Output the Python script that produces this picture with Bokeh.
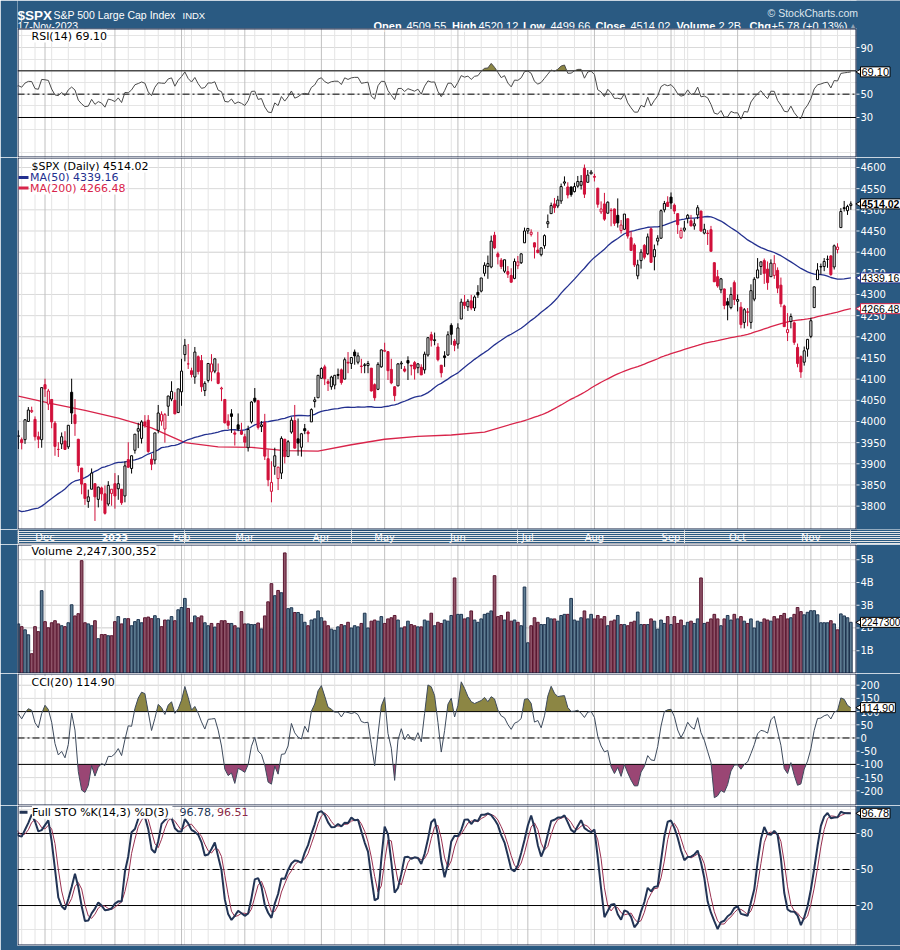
import numpy as np
import pandas as pd
from bokeh.plotting import figure
from bokeh.models import Range1d, Label, ColumnDataSource, GlobalInlineStyleSheet
from bokeh.layouts import column
from bokeh.embed import file_html
from bokeh.resources import INLINE
from bokeh.core.properties import value

# ---------------- DATA ----------------
HOLIDAYS = ["2022-11-24", "2022-12-26", "2023-01-02", "2023-01-16", "2023-02-20",
            "2023-04-07", "2023-05-29", "2023-06-19", "2023-07-04", "2023-09-04"]

# closes 12-Sep-2022 .. 30-Sep-2022 (history, only used for the moving averages / RSI warm-up)
sep_close = [4110, 3933, 3946, 3901, 3873, 3900, 3856, 3790, 3758, 3693, 3655, 3647, 3719, 3640, 3586]

# history 3-Oct-2022 .. 17-Nov-2022 (off-screen warm-up for indicators)
hist_open = [3609, 3710, 3754, 3771, 3706, 3647, 3596, 3590, 3520, 3690, 3638, 3746, 3703, 3689, 3657, 3762, 3799, 3825, 3834, 3808, 3881,
             3901, 3853, 3733, 3767, 3781, 3817, 3810, 3859, 3964, 3977, 4007, 3976, 3919]
hist_high = [3726, 3791, 3806, 3797, 3706, 3654, 3641, 3608, 3685, 3712, 3689, 3762, 3728, 3762, 3757, 3810, 3862, 3887, 3859, 3905, 3893,
             3911, 3894, 3750, 3796, 3813, 3859, 3819, 3959, 4002, 4009, 4029, 3983, 3954]
hist_low = [3604, 3710, 3722, 3739, 3620, 3579, 3570, 3574, 3491, 3579, 3638, 3676, 3667, 3656, 3647, 3741, 3799, 3825, 3803, 3808, 3863,
            3843, 3758, 3698, 3721, 3764, 3786, 3749, 3849, 3944, 3956, 3954, 3955, 3906]
hist_close = [3678, 3791, 3783, 3744, 3640, 3612, 3588, 3577, 3669, 3583, 3677, 3720, 3695, 3666, 3753, 3797, 3859, 3831, 3807, 3901, 3872,
              3856, 3760, 3720, 3771, 3807, 3828, 3749, 3956, 3993, 3957, 3992, 3959, 3947]

# visible: 18-Nov-2022 .. 17-Nov-2023
open_ = [3966, 3957, 3957, 4000, 4023, 4005, 3964, 3957,
         4087, 4041, 4052, 3996, 3934, 3947, 3954, 3940, 4069, 4016, 3958, 3890, 3853, 3811, 3840, 3853, 3816, 3843, 3829, 3805, 3830,
         3853, 3841, 3840, 3824, 3910, 3889, 3932, 3977, 3960, 3999, 4003, 3911, 3909, 3979, 4001, 3982, 4036, 4053, 4050, 4021,
         4070, 4158, 4136, 4120, 4105, 4153, 4144, 4073, 4097, 4117, 4119, 4115, 4077, 4052, 4001, 4018, 3973, 3992, 3977,
         3964, 3938, 3999, 4055, 4049, 3988, 3998, 3912, 3835, 3894, 3865, 3878, 3958, 3917, 3975, 4002, 3959, 3939, 3983, 3975, 3999, 4047, 4056,
         4102, 4129, 4094, 4082, 4086, 4111, 4122, 4100, 4140, 4137, 4164, 4140, 4131, 4132, 4132, 4126, 4087, 4076, 4129,
         4166, 4165, 4123, 4082, 4084, 4136, 4124, 4144, 4133, 4139, 4127, 4128, 4122, 4157, 4205, 4191, 4176, 4133, 4155, 4157, 4227, 4190,
         4183, 4242, 4282, 4271, 4285, 4268, 4305, 4308, 4350, 4366, 4365, 4440, 4396, 4381, 4355, 4354, 4345, 4338, 4368, 4375, 4422,
         4450, 4442, 4422, 4405, 4394, 4415, 4467, 4491, 4514, 4509, 4521, 4563, 4554, 4554, 4543, 4556, 4558, 4598, 4565, 4585,
         4579, 4551, 4495, 4514, 4492, 4498, 4502, 4487, 4451, 4454, 4479, 4434, 4417, 4344, 4380, 4416, 4396, 4455, 4389, 4426, 4433, 4500, 4518,
         4530, 4511, 4491, 4434, 4452, 4480, 4474, 4462, 4488, 4497, 4445, 4445, 4453, 4375, 4342, 4311, 4313, 4283, 4269, 4328,
         4284, 4270, 4234, 4259, 4234, 4289, 4339, 4366, 4380, 4360, 4342, 4345, 4357, 4322, 4273, 4210, 4236, 4233, 4175, 4153, 4140, 4171,
         4201, 4269, 4335, 4365, 4366, 4383, 4391, 4365, 4406, 4458, 4505, 4498, 4510]
high = [3979, 3962, 4005, 4034, 4035, 4012, 3976, 4080,
        4101, 4077, 4053, 4001, 3951, 3974, 3977, 3991, 4101, 4053, 3959, 3890, 3854, 3839, 3889, 3853, 3846, 3846, 3849, 3859, 3840,
        3878, 3873, 3840, 3906, 3951, 3920, 3970, 3997, 4003, 4015, 4015, 3923, 3973, 4039, 4024, 4020, 4061, 4095, 4069, 4077,
        4148, 4195, 4183, 4127, 4176, 4156, 4157, 4095, 4138, 4159, 4149, 4137, 4082, 4052, 4017, 4029, 3979, 4019, 3997,
        3971, 3990, 4048, 4079, 4051, 4001, 4018, 3934, 3906, 3938, 3893, 3965, 3959, 3956, 4010, 4039, 4007, 3973, 3994, 3979, 4031, 4058, 4110,
        4128, 4134, 4100, 4108, 4110, 4125, 4125, 4151, 4164, 4152, 4170, 4163, 4148, 4138, 4143, 4126, 4090, 4140, 4170,
        4186, 4165, 4148, 4083, 4138, 4143, 4131, 4154, 4133, 4143, 4138, 4135, 4165, 4198, 4212, 4210, 4185, 4133, 4166, 4213, 4232, 4195,
        4232, 4290, 4299, 4289, 4299, 4298, 4322, 4339, 4376, 4392, 4439, 4448, 4401, 4386, 4382, 4367, 4362, 4385, 4391, 4398, 4458,
        4457, 4454, 4423, 4448, 4412, 4442, 4489, 4517, 4528, 4533, 4562, 4579, 4565, 4555, 4564, 4580, 4582, 4607, 4594, 4594,
        4585, 4552, 4520, 4540, 4520, 4504, 4503, 4527, 4476, 4490, 4479, 4450, 4421, 4382, 4407, 4419, 4444, 4458, 4418, 4440, 4501, 4521, 4532,
        4541, 4515, 4491, 4458, 4474, 4490, 4488, 4479, 4511, 4498, 4467, 4452, 4462, 4376, 4358, 4339, 4314, 4292, 4317, 4333,
        4300, 4282, 4268, 4268, 4324, 4341, 4386, 4378, 4385, 4378, 4383, 4393, 4364, 4340, 4276, 4256, 4255, 4236, 4184, 4156, 4177, 4195,
        4245, 4319, 4374, 4373, 4386, 4392, 4393, 4418, 4421, 4504, 4521, 4512, 4520]
low = [3935, 3934, 3947, 3999, 4020, 3955, 3937, 3938,
       4058, 4027, 3984, 3919, 3916, 3935, 3933, 3935, 3994, 3966, 3880, 3828, 3803, 3796, 3840, 3765, 3797, 3813, 3780, 3800, 3801,
       3794, 3815, 3803, 3809, 3890, 3877, 3924, 3937, 3948, 3985, 3926, 3885, 3899, 3972, 3990, 3950, 4013, 4048, 4017, 4021,
       4037, 4142, 4124, 4104, 4089, 4111, 4070, 4060, 4092, 4095, 4114, 4088, 4048, 3995, 3982, 3973, 3943, 3977, 3968,
       3940, 3929, 3995, 4044, 3981, 3975, 3909, 3847, 3809, 3874, 3838, 3864, 3901, 3917, 3971, 3936, 3919, 3917, 3970, 3951, 3999, 4033, 4056,
       4101, 4086, 4072, 4075, 4076, 4100, 4087, 4100, 4114, 4124, 4134, 4135, 4114, 4114, 4114, 4071, 4049, 4074, 4127,
       4164, 4098, 4088, 4048, 4084, 4124, 4116, 4098, 4109, 4099, 4114, 4110, 4113, 4153, 4177, 4180, 4142, 4104, 4129, 4155, 4181, 4166,
       4172, 4242, 4266, 4261, 4263, 4261, 4292, 4305, 4343, 4337, 4362, 4407, 4371, 4360, 4351, 4339, 4328, 4336, 4360, 4372, 4422,
       4443, 4437, 4385, 4397, 4390, 4408, 4457, 4491, 4493, 4504, 4514, 4557, 4527, 4531, 4541, 4552, 4548, 4528, 4565, 4584,
       4567, 4505, 4490, 4474, 4491, 4461, 4462, 4458, 4444, 4453, 4432, 4404, 4365, 4336, 4361, 4383, 4393, 4375, 4357, 4416, 4431, 4494, 4507,
       4502, 4490, 4443, 4431, 4448, 4468, 4461, 4453, 4478, 4448, 4442, 4417, 4403, 4330, 4316, 4303, 4265, 4239, 4265, 4275,
       4260, 4220, 4220, 4225, 4219, 4284, 4339, 4346, 4325, 4311, 4342, 4337, 4303, 4270, 4224, 4190, 4220, 4181, 4128, 4103, 4132, 4153,
       4197, 4269, 4335, 4347, 4355, 4363, 4344, 4359, 4397, 4458, 4496, 4488, 4500]
close = [3965, 3950, 4004, 4027, 4026, 3964, 3958, 4080,
         4077, 4072, 3999, 3941, 3934, 3964, 3934, 3991, 4020, 3995, 3896, 3852, 3818, 3822, 3878, 3822, 3845, 3829, 3783, 3849, 3840,
         3824, 3853, 3808, 3895, 3892, 3919, 3970, 3983, 3999, 3991, 3929, 3899, 3973, 4020, 4017, 4016, 4060, 4071, 4018, 4077,
         4119, 4180, 4136, 4111, 4164, 4118, 4082, 4090, 4137, 4136, 4148, 4090, 4079, 3997, 3991, 4012, 3970, 3982, 3970,
         3951, 3981, 4046, 4048, 3986, 3992, 3918, 3862, 3856, 3919, 3892, 3960, 3917, 3952, 4003, 3937, 3949, 3971, 3978, 3971, 4028, 4051, 4109,
         4125, 4101, 4090, 4105, 4109, 4109, 4092, 4146, 4138, 4151, 4155, 4155, 4130, 4134, 4137, 4072, 4056, 4135, 4169,
         4168, 4120, 4091, 4061, 4136, 4138, 4119, 4138, 4131, 4124, 4136, 4110, 4159, 4198, 4192, 4193, 4146, 4115, 4151, 4205, 4206, 4180,
         4221, 4282, 4274, 4284, 4268, 4294, 4299, 4339, 4369, 4373, 4426, 4410, 4389, 4366, 4382, 4348, 4329, 4378, 4377, 4396, 4450,
         4456, 4447, 4412, 4399, 4410, 4439, 4472, 4510, 4505, 4523, 4555, 4566, 4535, 4536, 4555, 4567, 4567, 4537, 4582, 4589,
         4577, 4513, 4502, 4478, 4518, 4499, 4468, 4469, 4464, 4490, 4438, 4404, 4370, 4370, 4400, 4388, 4436, 4376, 4406, 4433, 4498, 4515, 4508,
         4516, 4497, 4465, 4451, 4457, 4487, 4462, 4467, 4505, 4450, 4454, 4444, 4402, 4330, 4320, 4337, 4274, 4275, 4300, 4288,
         4288, 4229, 4264, 4258, 4309, 4336, 4358, 4377, 4350, 4328, 4374, 4373, 4315, 4278, 4224, 4217, 4248, 4187, 4137, 4117, 4167, 4194,
         4238, 4318, 4358, 4366, 4378, 4383, 4347, 4415, 4412, 4496, 4503, 4508, 4514]
# volume in billions
volume = [2.18, 2.06, 1.92, 1.70, 0.87, 2.06, 1.84, 3.64,
          2.28, 2.01, 2.23, 2.32, 2.18, 2.10, 2.06, 2.23, 3.02, 2.53, 2.63, 4.96, 2.23, 2.18, 2.10, 2.32, 1.53, 1.71, 1.71, 1.66, 1.66,
          2.28, 2.50, 2.18, 2.41, 2.41, 2.10, 2.28, 2.37, 2.23, 2.45, 2.48, 2.41, 2.54, 2.41, 2.06, 2.35, 2.35, 2.50, 2.32, 2.80,
          2.90, 3.30, 2.86, 2.23, 2.53, 2.45, 2.53, 2.23, 2.10, 2.20, 2.04, 2.20, 2.32, 2.32, 2.20, 2.20, 2.10, 2.00, 2.72,
          2.18, 2.18, 2.15, 2.15, 2.22, 1.96, 2.53, 3.15, 3.95, 3.42, 3.65, 3.55, 5.30, 2.85, 2.89, 2.68, 2.68, 2.60, 2.25, 2.10, 2.35, 2.40, 2.75,
          2.45, 2.30, 2.10, 1.95, 1.90, 2.05, 2.15, 2.10, 2.25, 2.00, 2.10, 2.05, 2.20, 2.65, 2.00, 2.30, 2.35, 2.30, 2.50,
          2.20, 2.40, 2.45, 2.55, 2.35, 2.00, 2.05, 2.30, 2.15, 2.10, 2.05, 2.05, 2.35, 2.30, 2.65, 2.10, 2.25, 2.20, 2.35, 2.30, 2.55, 4.20,
          2.60, 2.60, 2.40, 2.45, 2.75, 2.35, 2.25, 2.40, 2.60, 2.65, 2.75, 4.30, 2.50, 2.55, 2.35, 2.70, 2.30, 2.35, 2.25, 2.10, 3.80,
          1.35, 2.10, 2.45, 2.25, 2.15, 2.15, 2.45, 2.40, 2.40, 2.30, 2.55, 2.60, 2.60, 3.30, 2.35, 2.30, 2.45, 2.75, 2.40, 2.60,
          2.40, 2.55, 2.40, 2.50, 2.10, 2.30, 2.35, 2.55, 2.15, 2.15, 2.10, 2.25, 2.30, 2.70, 2.15, 2.15, 2.15, 2.40, 2.30, 1.95, 2.35, 2.20, 2.50,
          2.15, 2.50, 2.20, 2.35, 2.10, 2.25, 2.30, 2.20, 2.40, 4.20, 2.20, 2.25, 2.40, 2.60, 2.40, 2.10, 2.40, 2.55, 2.35, 2.60,
          2.40, 2.50, 2.30, 2.20, 2.40, 2.00, 2.30, 2.25, 2.40, 2.35, 2.30, 2.50, 2.40, 2.55, 2.64, 2.40, 2.45, 2.60, 2.90, 2.72, 2.58, 2.69,
          2.76, 2.76, 2.58, 2.23, 2.23, 2.23, 2.32, 2.18, 1.92, 2.62, 2.53, 2.45, 2.25]

# 200-day average for the part before it can be computed from the closes above
ma200_early_idx = [0, 10, 20, 30, 40, 50, 60, 70, 80, 90, 100, 110, 120, 130, 140]
ma200_early = [4060, 4042, 4026, 4008, 3985, 3950, 3940, 3939, 3931, 3930, 3945, 3958, 3965, 3968, 3975]

month_labels = ["Dec", "2023", "Feb", "Mar", "Apr", "May", "Jun", "Jul", "Aug", "Sep", "Oct", "Nov"]

price_ticks = list(range(3800, 4601, 50))
rsi_ticks = [30, 50, 70, 90]
vol_ticks = [1, 2, 3, 4, 5]
vol_tick_text = ["1B", "2B", "3B", "4B", "5B"]
cci_ticks = [-200, -150, -100, -50, 0, 50, 100, 150, 200]
sto_ticks = [20, 50, 80]

# ---------------- STYLE ----------------
BLUE = "#2a5a82"
NAVY = "#0d1b3d"
RED = "#d0103a"
MA50C = "#23308f"
MA200C = "#d8244a"
HGRID = "#d9d9d9"
WGRID = "#e4e4e4"
MGRID = "#c0c0c0"
OLIVE = "#8c8644"
MAROON = "#9a4674"
VUP_F, VUP_L = "#5f7d93", "#1f3550"
VDN_F, VDN_L = "#8e5468", "#5b1630"
FONT = "DejaVu Sans"
HFONT = "Liberation Sans"

N = len(close)
for arr in (open_, high, low, volume):
    assert len(arr) == N

dates = pd.bdate_range("2022-11-18", "2023-11-17", freq="C", holidays=HOLIDAYS)
assert len(dates) == N
x = np.arange(N)
week_x = [i for i in range(1, N) if dates[i].weekday() < dates[i - 1].weekday()]
month_x = [i for i in range(1, N) if dates[i].month != dates[i - 1].month]
week_only = [i for i in week_x if i not in month_x]

# ---------------- INDICATORS ----------------
c_all = np.array(sep_close + hist_close + close, float)
OFF_ALL = len(sep_close) + len(hist_close)
H = np.array(hist_high + high, float)
L = np.array(hist_low + low, float)
C = np.array(hist_close + close, float)
OFF = len(hist_close)

ov = np.array(open_, float)
cv = np.array(close, float)
prev_close = C[OFF - 1:OFF - 1 + N]
col = np.where(cv >= prev_close, "black", RED)
fill = np.where(cv > ov, "white", col)

ma50 = pd.Series(c_all).rolling(50).mean().to_numpy()[OFF_ALL:]
ma200_full = pd.Series(c_all).rolling(200).mean().to_numpy()[OFF_ALL:]
valid = ~np.isnan(ma200_full)
ma200_x = np.concatenate([np.array(ma200_early_idx, float), x[valid]])
ma200_y = np.concatenate([np.array(ma200_early, float), ma200_full[valid]])


def rsi_wilder(c, n=14):
    d = np.diff(c)
    g = np.where(d > 0, d, 0.0)
    s = np.where(d < 0, -d, 0.0)
    out = np.full(len(c), np.nan)
    ag, al = g[:n].mean(), s[:n].mean()
    out[n] = 100 - 100 / (1 + ag / al)
    for i in range(n + 1, len(c)):
        ag = (ag * (n - 1) + g[i - 1]) / n
        al = (al * (n - 1) + s[i - 1]) / n
        out[i] = 100 - 100 / (1 + ag / al)
    return out


xi = np.arange(-1, N).astype(float)
rsi = rsi_wilder(c_all)[OFF_ALL - 1:]
tp = pd.Series((H + L + C) / 3.0)
sma = tp.rolling(20).mean()
md = tp.rolling(20).apply(lambda a: np.abs(a - a.mean()).mean(), raw=True)
cci = ((tp - sma) / (0.015 * md)).to_numpy()[OFF - 1:]
ll = pd.Series(L).rolling(14).min()
hh = pd.Series(H).rolling(14).max()
fk = 100 * (pd.Series(C) - ll) / (hh - ll)
stok = fk.rolling(3).mean()
stod = stok.rolling(3).mean()
stok = stok.to_numpy()[OFF - 1:]
stod = stod.to_numpy()[OFF - 1:]


def cross_pts(xx, yy, thr):
    xs, ys = [xx[0]], [yy[0]]
    for i in range(1, len(xx)):
        if (yy[i - 1] - thr) * (yy[i] - thr) < 0:
            t = (thr - yy[i - 1]) / (yy[i] - yy[i - 1])
            xs.append(xx[i - 1] + t * (xx[i] - xx[i - 1]))
            ys.append(thr)
        xs.append(xx[i])
        ys.append(yy[i])
    return np.array(xs), np.array(ys)


# ---------------- LAYOUT HELPERS ----------------
FL, FR = 17, 856           # plot area left/right pixel
XR0, XV = -0.26, 251.7      # data x at FL and FR
UPX = (XV - XR0) / (FR - FL)
XR1 = XV + (900 - FR) * UPX  # frame runs to the page edge; axis area drawn inside it
XR = Range1d(XR0, XR1)


def xpix(px):
    return XR0 + (px - FL) * UPX


def base_fig(height, y_range, bottom_border=0, bg="white"):
    return figure(width=900, height=height, x_range=XR, y_range=y_range,
                  output_backend="svg", toolbar_location=None, title=None,
                  x_axis_location=None, y_axis_location=None,
                  min_border_left=FL, min_border_right=0, min_border_top=0,
                  min_border_bottom=bottom_border, background_fill_color=bg,
                  border_fill_color=BLUE, outline_line_color=None)


class Panel:
    def __init__(self, top, bot, y0, y1, ticks, tick_text=None, bottom_border=0, frame_top=None):
        if frame_top is None:
            frame_top = top
        self.top, self.bot, self.y0, self.y1 = top, bot, y0, y1
        self.k = (y1 - y0) / (bot - top)
        self.yt = y1 + (top - frame_top) * self.k
        self.ticks = ticks
        self.tick_text = tick_text if tick_text is not None else [str(t) for t in ticks]
        p = base_fig(bot - frame_top + bottom_border, Range1d(y0, self.yt), bottom_border)
        p.quad(left=XV, right=XR1, bottom=y0, top=self.yt, fill_color=BLUE, line_color=None)
        p.segment(x0=XR0, x1=XV, y0=ticks, y1=ticks, line_color=HGRID, line_width=1)
        p.segment(x0=week_only, y0=y0, x1=week_only, y1=y1, line_color=WGRID, line_width=1)
        p.segment(x0=month_x, y0=y0, x1=month_x, y1=y1, line_color=MGRID, line_width=1)
        self.p = p

    def py(self, px):
        return self.y1 - (px - self.top) * self.k

    def finish(self):
        p, k = self.p, self.k
        xl = xpix(FL + 0.5)
        xr = xpix(FR - 0.5)
        yb = self.y0 + 0.5 * k
        ytop = self.y1 - 0.5 * k
        p.line([xl, xr, xr, xl, xl], [yb, yb, ytop, ytop, yb], line_color=NAVY, line_width=1)
        p.segment(x0=xpix(FR), x1=xpix(FR + 3), y0=self.ticks, y1=self.ticks,
                  line_color="#dfe6ee", line_width=1)
        p.text(x=xpix(FR + 4), y=self.ticks, text=self.tick_text, text_font=value(FONT),
               text_font_size="10px", text_color="white", text_align="left", text_baseline="middle")

    def legend(self, px, ypx, text, color="black", bold=False):
        self.p.add_layout(Label(x=xpix(px), y=self.py(ypx), text=text, text_color=color,
                                text_font=FONT, text_font_size="11px",
                                text_font_style="bold" if bold else "normal",
                                text_baseline="middle", background_fill_color="white"))

    def vbox(self, yv, text, border="black", bold=False, size="11px"):
        self.p.scatter(x=[xpix(FR + 4)], y=[yv], marker="triangle", angle=np.pi / 2, size=8,
                       fill_color="white", line_color=border, line_width=1)
        self.p.add_layout(Label(x=xpix(FR + 4), y=yv, text=text, text_color="black", text_font=HFONT,
                                text_font_size=size, text_font_style="bold" if bold else "normal",
                                text_baseline="middle", background_fill_color="white",
                                border_line_color=border, border_line_width=1, padding=1))


# ---------------- RSI (with the header above it) ----------------
rsi_p = Panel(28, 157, -4.3, 106.3, rsi_ticks, frame_top=0)
p_rsi = rsi_p.p
p_rsi.quad(left=XR0 - 10, right=XR1, bottom=rsi_p.y1, top=rsi_p.yt, fill_color=BLUE, line_color=None)


def htext(px, ypx, t, size, bold=False, color="white"):
    p_rsi.text(x=[xpix(px)], y=[rsi_p.py(ypx)], text=[t], text_font=value(HFONT), text_font_size=size,
               text_font_style="bold" if bold else "normal", text_color=color,
               text_align="left", text_baseline="alphabetic")


htext(17, 14.5, "$SPX", "13.5px", bold=True)
htext(53, 14.5, "S&P 500 Large Cap Index", "10.5px")
htext(182, 14.5, "INDX", "9.5px")
htext(17, 25.5, "17-Nov-2023", "10.5px")
htext(767, 12.5, "\u00a9 StockCharts.com", "10.5px", color="#dfe6ee")
for hx, t, b in [(373, "Open", True), (406, "4509.55", False), (451.5, "High", True), (478, "4520.12", False),
                 (522.5, "Low", True), (550, "4499.66", False), (595, "Close", True), (630, "4514.02", False),
                 (676, "Volume", True), (718, "2.2B", False), (749, "Chg", True), (771, "+5.78 (+0.13%)", False)]:
    htext(hx, 25.5, t, "11px", bold=b)
htext(849, 24.5, "\u25b2", "7px", color="#8fa3b6")

xs, ys = cross_pts(xi, rsi, 70)
p_rsi.varea(x=xs, y1=70, y2=np.maximum(ys, 70), fill_color=OLIVE)
xs, ys = cross_pts(xi, rsi, 30)
p_rsi.varea(x=xs, y1=np.minimum(ys, 30), y2=30, fill_color=MAROON)
for lv, dash in [(70, "solid"), (30, "solid"), (50, "7 3 2 3")]:
    p_rsi.segment(x0=XR0, x1=XV, y0=lv, y1=lv, line_color="black", line_width=1, line_dash=dash)
p_rsi.line(xi, rsi, line_color="#4a4a4a", line_width=1)
rsi_p.finish()
rsi_p.legend(31, 35.5, "RSI(14) 69.10")
rsi_p.vbox(69.10, "69.10")

# ---------------- PRICE ----------------
px_p = Panel(157, 529, 3744.8, 4623.6, price_ticks)
p_px = px_p.p
src = ColumnDataSource(dict(x=x, h=np.array(high, float), l=np.array(low, float),
                            top=np.maximum(ov, cv), bot=np.minimum(ov, cv), col=col, fill=fill))
p_px.line(ma200_x, ma200_y, line_color=MA200C, line_width=1.3)
p_px.line(x, ma50, line_color=MA50C, line_width=1.3)
p_px.segment(x0="x", y0="l", x1="x", y1="h", line_color="col", line_width=1, source=src)
p_px.vbar(x="x", width=0.62, top="top", bottom="bot", fill_color="fill", line_color="col",
          line_width=1, source=src)
px_p.finish()
px_p.legend(31, 165.5, "$SPX (Daily) 4514.02")
p_px.segment(x0=[xpix(18)], y0=[px_p.py(177)], x1=[xpix(28)], y1=[px_p.py(177)], line_color=MA50C, line_width=3)
px_p.legend(29.5, 177, "MA(50) 4339.16", color=MA50C)
p_px.segment(x0=[xpix(18)], y0=[px_p.py(187.5)], x1=[xpix(28)], y1=[px_p.py(187.5)], line_color=MA200C, line_width=3)
px_p.legend(29.5, 187.5, "MA(200) 4266.48", color=MA200C)
px_p.vbox(4514.02, "4514.02", bold=True, size="10.5px")
px_p.vbox(4339.16, "4339.16", border=MA50C, size="10.5px")
px_p.vbox(4266.48, "4266.48", border=MA200C, size="10.5px")

# ---------------- DATE BAND ----------------
band = base_fig(15, Range1d(15, 0), bg=BLUE)
band.segment(x0=XR0, x1=XV, y0=[0.5, 14.5], y1=[0.5, 14.5], line_color=NAVY, line_width=1, line_dash="1 1")
reg_x = [m for m, t in zip(month_x, month_labels) if t != "2023"]
reg_t = [t for t in month_labels if t != "2023"]
band.text(x=reg_x, y=7.5, text=reg_t, text_font=value(FONT), text_font_size="10px",
          text_color="white", text_align="center", text_baseline="middle")
band.text(x=[m for m, t in zip(month_x, month_labels) if t == "2023"], y=7.5, text=["2023"],
          text_font=value(FONT), text_font_size="9.5px", text_font_style="bold",
          text_color="white", text_align="center", text_baseline="middle")

# ---------------- VOLUME ----------------
vol_p = Panel(544, 673, 0, 5.67, vol_ticks, tick_text=vol_tick_text)
p_vol = vol_p.p
down = cv < prev_close
vsrc = ColumnDataSource(dict(x=x, v=np.array(volume, float),
                             f=np.where(down, VDN_F, VUP_F), lc=np.where(down, VDN_L, VUP_L)))
p_vol.vbar(x="x", width=0.8, top="v", bottom=0, fill_color="f", line_color="lc", line_width=1, source=vsrc)
vol_p.finish()
vol_p.legend(31, 551, "Volume 2,247,300,352")
vol_p.vbox(2.2473, "2247300", size="10px")

# ---------------- CCI ----------------
cci_p = Panel(673, 805, -255.7, 244.3, cci_ticks)
p_cci = cci_p.p
xs, ys = cross_pts(xi, cci, 100)
p_cci.varea(x=xs, y1=100, y2=np.maximum(ys, 100), fill_color=OLIVE)
xs, ys = cross_pts(xi, cci, -100)
p_cci.varea(x=xs, y1=np.minimum(ys, -100), y2=-100, fill_color=MAROON)
for lv, dash in [(100, "solid"), (-100, "solid"), (0, "7 3 2 3")]:
    p_cci.segment(x0=XR0, x1=XV, y0=lv, y1=lv, line_color="black", line_width=1, line_dash=dash)
p_cci.line(xi, cci, line_color="#3d4a5c", line_width=1)
cci_p.finish()
cci_p.legend(31, 682, "CCI(20) 114.90")
cci_p.vbox(114.90, "114.90")

# ---------------- STO ----------------
sto_p = Panel(805, 945, -13.3, 103.3, sto_ticks, bottom_border=5)
p_sto = sto_p.p
for lv, dash in [(80, "solid"), (20, "solid"), (50, "7 3 2 3")]:
    p_sto.segment(x0=XR0, x1=XV, y0=lv, y1=lv, line_color="black", line_width=1, line_dash=dash)
p_sto.line(xi, stod, line_color="#9a3050", line_width=1)
p_sto.line(xi, stok, line_color="#223455", line_width=2)
sto_p.finish()
p_sto.segment(x0=[xpix(19)], y0=[sto_p.py(811.7)], x1=[xpix(27)], y1=[sto_p.py(811.7)],
              line_color="#223455", line_width=3)
sto_p.legend(31.5, 811.7, "Full STO %K(14,3) %D(3) ")
sto_p.legend(179, 811.7, "96.78,", color="#223455")
sto_p.legend(216.5, 811.7, "96.51", color="#8a2a48")
sto_p.vbox(96.78, "96.78")

layout = column(p_rsi, p_px, band, p_vol, p_cci, p_sto, spacing=0,
                stylesheets=[GlobalInlineStyleSheet(css="html, body {margin:0 !important; padding:0 !important; overflow:hidden;}")])

open("out.html", "w").write(file_html(layout, INLINE, title="$SPX"))
